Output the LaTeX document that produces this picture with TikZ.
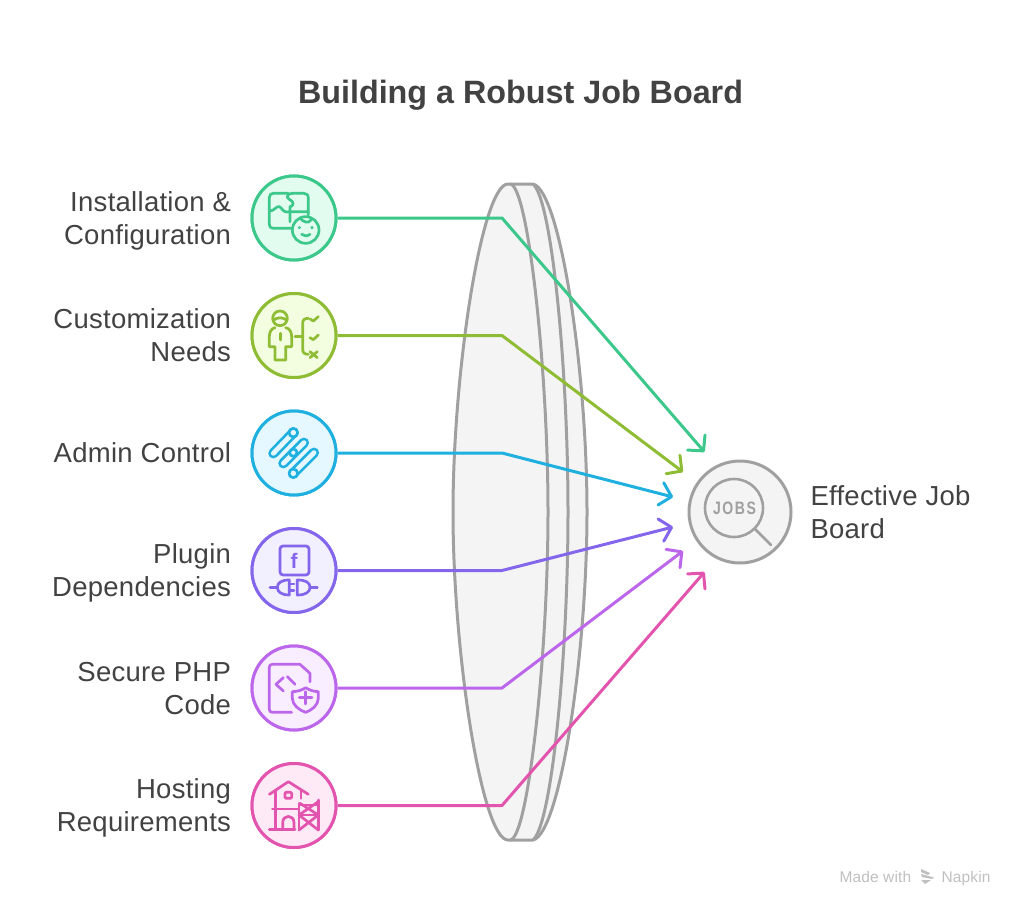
\documentclass[tikz,border=0pt]{standalone}
\usepackage{fontspec}
\setmainfont{Liberation Sans}
\newfontfamily\labelfont[LetterSpace=1]{Liberation Sans}
\usetikzlibrary{arrows.meta}

\definecolor{inkText}{HTML}{424242}
\definecolor{lensLine}{HTML}{A0A0A0}
\definecolor{lensFill}{HTML}{F4F4F4}
\definecolor{greenLine}{HTML}{3CC78B}
\definecolor{greenFill}{HTML}{E3FCF0}
\definecolor{limeLine}{HTML}{8FBC35}
\definecolor{limeFill}{HTML}{F3FDE0}
\definecolor{blueLine}{HTML}{1FB0E0}
\definecolor{blueFill}{HTML}{E6F8FF}
\definecolor{violetLine}{HTML}{8466EC}
\definecolor{violetFill}{HTML}{F2EFFF}
\definecolor{purpleLine}{HTML}{BC66EC}
\definecolor{purpleFill}{HTML}{F9EEFF}
\definecolor{pinkLine}{HTML}{E254AE}
\definecolor{pinkFill}{HTML}{FEEAF6}

\tikzset{
  every picture/.style={line width=3pt},
  badge/.style={circle,draw,line width=3pt,minimum size=84pt,inner sep=0pt},
  sidelabel/.style={anchor=east,align=right,text=inkText,font=\labelfont\fontsize{27.5}{33}\selectfont,inner sep=0pt},
  link/.style={line width=3pt,line join=round,-{Straight Barb[length=11pt,width=23pt,round]}},
  icon/.style={line width=2.7pt,line cap=round,line join=round},
}

\begin{document}
\begin{tikzpicture}[x=1pt,y=1pt,yscale=-1,xscale=1]
    \useasboundingbox (0,0) rectangle (1024,915);

    % Title
    \node [font=\fontsize{32.3}{40}\selectfont\bfseries,text=inkText,inner sep=0pt] (title) at (520.5,95) {Building a Robust Job Board};

    %Shape: lens
    \draw [color=lensLine,fill=lensFill,line join=round] (508,184) .. controls (482,184) and (453,370) .. (453,512) .. controls (453,654) and (482,840) .. (508,840) -- (533,840) .. controls (560,834) and (587,654) .. (587,512) .. controls (587,370) and (560,190) .. (533,184) -- cycle ;
    \draw [color=lensLine] (510,184) .. controls (528,184) and (548,370) .. (548,512) .. controls (548,654) and (528,840) .. (510,840) ;
    \draw [color=lensLine] (533,184) .. controls (552,200) and (568,370) .. (568,512) .. controls (568,654) and (552,824) .. (533,840) ;

    % Badges
    \node [badge,draw=greenLine,fill=greenFill] (install) at (294,218) {};
    \node [badge,draw=limeLine,fill=limeFill] (custom) at (294,335.5) {};
    \node [badge,draw=blueLine,fill=blueFill] (admin) at (294,453) {};
    \node [badge,draw=violetLine,fill=violetFill] (plugin) at (294,570.5) {};
    \node [badge,draw=purpleLine,fill=purpleFill] (secure) at (294,688) {};
    \node [badge,draw=pinkLine,fill=pinkFill] (hosting) at (294,805.5) {};
    \node [circle,draw=lensLine,fill=lensFill,line width=3pt,minimum size=102pt,inner sep=0pt] (board) at (740,512) {};

    % Labels
    \node [sidelabel] (installText) at (232.5,221) {Installation \&\strut\\Configuration\strut};
    \node [sidelabel] (customText) at (232.5,338.5) {Customization\strut\\Needs\strut};
    \node [sidelabel] (adminText) at (232.5,456) {Admin Control\strut};
    \node [sidelabel] (pluginText) at (232.5,573.5) {Plugin\strut\\Dependencies\strut};
    \node [sidelabel] (secureText) at (232.5,691) {Secure PHP\strut\\Code\strut};
    \node [sidelabel] (hostingText) at (232.5,808.5) {Hosting\strut\\Requirements\strut};
    \node [sidelabel,anchor=west,align=left] (boardText) at (809,515) {Effective Job\strut\\Board\strut};

    % Connector ends
    \coordinate (bendA) at (502,218);
    \coordinate (bendB) at (502,335.5);
    \coordinate (bendC) at (502,453);
    \coordinate (bendD) at (502,570.5);
    \coordinate (bendE) at (502,688);
    \coordinate (bendF) at (502,805.5);
    \coordinate (tipA) at (704.5,452);
    \coordinate (tipB) at (683,472);
    \coordinate (tipC) at (673,497);
    \coordinate (tipD) at (673,527);
    \coordinate (tipE) at (683,551);
    \coordinate (tipF) at (704.5,572);

    % Connectors
    \draw [link,color=greenLine] (install) -- (bendA) -- (tipA);
    \draw [link,color=limeLine] (custom) -- (bendB) -- (tipB);
    \draw [link,color=blueLine] (admin) -- (bendC) -- (tipC);
    \draw [link,color=violetLine] (plugin) -- (bendD) -- (tipD);
    \draw [link,color=purpleLine] (secure) -- (bendE) -- (tipE);
    \draw [link,color=pinkLine] (hosting) -- (bendF) -- (tipF);
    % badges again over the connector starts
    \path [draw=greenLine,fill=greenFill] (install) circle (42);
    \path [draw=limeLine,fill=limeFill] (custom) circle (42);
    \path [draw=blueLine,fill=blueFill] (admin) circle (42);
    \path [draw=violetLine,fill=violetFill] (plugin) circle (42);
    \path [draw=purpleLine,fill=purpleFill] (secure) circle (42);
    \path [draw=pinkLine,fill=pinkFill] (hosting) circle (42);

    %Icon: puzzle and face
    \begin{scope}[shift={(240,165)},scale=0.3333,icon,color=greenLine]
      \draw (205,150) -- (205,100) .. controls (205,90) and (200,85) .. (192,85) -- (158,85) .. controls (145,85) and (135,95) .. (148,103) .. controls (165,110) and (160,125) .. (150,125) -- (150,170);
      \draw (145,85) -- (100,85) .. controls (92,85) and (88,90) .. (88,98) -- (88,178) .. controls (88,186) and (92,190) .. (100,190) -- (152,190);
      \draw (88,138) .. controls (105,138) and (108,122) .. (118,125) .. controls (128,128) and (125,145) .. (150,140) -- (205,140);
      \draw (197,195) circle (40);
      \draw (180,160) .. controls (190,170) and (205,178) .. (213,165);
      \draw (185,208) .. controls (192,214) and (202,214) .. (210,208);
      \fill (178,188) circle (5) (216,188) circle (5);
    \end{scope}

    %Icon: person and checklist
    \begin{scope}[shift={(240,165)},scale=0.3333,icon,color=limeLine]
      \draw (120,460) circle (22);
      \draw (100,466) .. controls (112,456) and (128,456) .. (141,466);
      \draw (105,488) .. controls (95,490) and (88,500) .. (88,515) -- (88,545) -- (105,545) -- (105,585) -- (137,585) -- (137,545) -- (155,545) -- (155,515) .. controls (155,500) and (148,490) .. (137,488);
      \draw (121,505) -- (121,525);
      \draw (205,460) .. controls (193,460) and (188,465) .. (188,475) -- (188,553) .. controls (188,563) and (193,568) .. (205,568);
      \draw (165,515) -- (188,515);
      \draw (210,462) -- (220,468) -- (235,455);
      \draw (210,518) -- (220,524) -- (235,510);
      \draw (210,560) -- (232,578) (232,560) -- (210,578);
    \end{scope}

    %Icon: three sliders
    \begin{scope}[shift={(240,400)},scale=0.3333,icon,color=blueLine]
      \draw [double=blueFill,double distance=4.8pt] (192,128) -- (130,190);
      \draw [double=blueFill,double distance=4.8pt] (222,158) -- (160,220);
      \draw [double=blueFill,double distance=4.8pt] (160,98) -- (100,160);
      \draw [fill=blueFill] (160,98) circle (13);
      \draw [fill=blueFill] (160,158) circle (11);
      \draw [fill=blueFill] (160,220) circle (13);
    \end{scope}

    %Icon: plug and page
    \begin{scope}[shift={(240,400)},scale=0.3333,icon,color=violetLine]
      \draw [rounded corners=3pt] (120,438) rectangle (207,525);
      \node [text=violetLine,font=\fontsize{21}{21}\selectfont\bfseries,inner sep=0pt] (pageLetter) at (162,483) {f};
      \draw (90,562) -- (112,562) (210,562) -- (232,562);
      \draw (148,540) .. controls (125,540) and (112,548) .. (112,562) .. controls (112,576) and (125,585) .. (148,585) -- cycle;
      \draw (148,552) -- (162,552) (148,572) -- (162,572);
      \draw (172,540) .. controls (198,540) and (210,548) .. (210,562) .. controls (210,576) and (198,585) .. (172,585) -- cycle;
    \end{scope}

    %Icon: code file and shield
    \begin{scope}[shift={(240,635)},scale=0.3333,icon,color=purpleLine]
      \draw (155,232) -- (97,232) .. controls (91,232) and (88,229) .. (88,223) -- (88,97) .. controls (88,91) and (91,88) .. (97,88) -- (180,88) -- (210,115) -- (210,140);
      \draw (130,128) -- (108,148) -- (130,168);
      \draw (142,125) -- (165,148);
      \draw (157,170) .. controls (172,170) and (187,165) .. (197,158) .. controls (207,165) and (222,170) .. (235,170) -- (235,190) .. controls (235,210) and (215,226) .. (197,232) .. controls (178,226) and (157,210) .. (157,190) -- cycle;
      \draw (178,188) -- (216,188) (197,170) -- (197,207);
    \end{scope}

    %Icon: house and scaffold
    \begin{scope}[shift={(240,635)},scale=0.3333,icon,color=pinkLine]
      \draw (88,478) -- (145,440) -- (205,478);
      \draw (107,466) -- (107,583);
      \draw (183,464) -- (183,490);
      \draw [rounded corners=1pt] (135,472) rectangle (155,490);
      \draw (97,522) -- (175,522);
      \draw (88,583) -- (165,583);
      \draw (128,583) -- (128,563) .. controls (128,538) and (162,538) .. (162,563) -- (162,583);
      \draw (177,505) -- (177,585) (235,495) -- (235,585);
      \draw (177,510) -- (235,510) (177,540) -- (235,540);
      \draw (177,540) -- (235,500) (180,505) -- (235,540);
      \draw (177,585) -- (235,540) (177,540) -- (235,585);
    \end{scope}

    %Icon: magnifier
    \draw [color=lensLine,line width=2.6pt] (734,508) circle (29);
    \draw [color=lensLine,line width=2.6pt,line cap=round] (755,529) -- (771,545);
    \node [text=lensLine,font=\fontsize{18}{18}\selectfont\bfseries,inner sep=0pt] (jobsText) at (734.5,508.5) {\scalebox{.78}[1]{J\kern2ptO\kern2ptB\kern2ptS}};

    % Footer
    \node [anchor=base west,text=black!25,font=\labelfont\fontsize{15.5}{18}\selectfont,inner sep=0pt] (madeText) at (838,882) {Made with};
    \node [anchor=base west,text=black!25,font=\labelfont\fontsize{15.5}{18}\selectfont,inner sep=0pt] (napkinText) at (940,882) {Napkin};
    \fill [black!25] (921,869) -- (930,873) -- (928,875) -- (921,872) -- cycle (921,874) -- (934,877.5) -- (932,879) -- (922,877) -- cycle (921,880) -- (931,880) -- (925,884) -- cycle;

\end{tikzpicture}
\end{document}
